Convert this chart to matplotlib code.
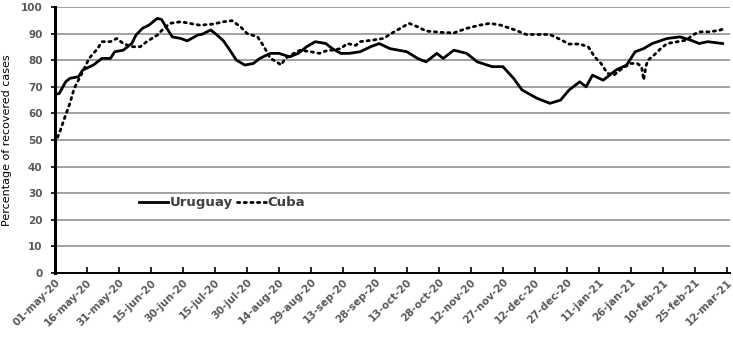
"""Recovered-case percentage, Uruguay vs Cuba."""

import matplotlib

matplotlib.use("Agg")
import matplotlib.pyplot as plt

# days counted from 01-may-20
uruguay_days = [0, 2, 5, 7, 11, 13, 18, 22, 26, 28, 32, 36, 38, 41, 44, 48, 50, 52,
                55, 59, 62, 67, 69, 73, 76, 79, 82, 85, 89, 93, 96, 101, 105, 110,
                114, 118, 122, 127, 130, 134, 138, 143, 148, 152, 157, 165, 170, 174,
                179, 182, 187, 193, 198, 205, 210, 215, 219, 226, 232, 237, 241, 246,
                249, 252, 257, 263, 268, 272, 276, 280, 287, 293, 298, 302, 306, 313]
uruguay_pct = [67.2, 67.5, 71.9, 73.2, 73.8, 76.3, 78.2, 80.7, 80.7, 83.2, 83.8, 86.3,
               89.5, 92.0, 93.2, 95.8, 95.3, 92.6, 88.8, 88.2, 87.3, 89.5, 89.8, 91.4,
               89.5, 87.3, 83.8, 80.1, 78.2, 78.8, 80.7, 82.6, 82.6, 81.3, 82.6, 85.1,
               87.0, 86.3, 84.4, 82.6, 82.6, 83.2, 85.1, 86.3, 84.4, 83.2, 80.7, 79.4,
               82.6, 80.7, 83.8, 82.6, 79.4, 77.6, 77.6, 73.2, 68.8, 65.7, 63.8, 65.0,
               68.8, 71.9, 70.0, 74.4, 72.5, 76.3, 78.2, 83.2, 84.4, 86.3, 88.2, 88.8,
               87.6, 86.3, 87.0, 86.3]

cuba_days = [0, 2, 5, 7, 9, 13, 16, 20, 22, 26, 29, 32, 36, 40, 43, 48, 51, 54, 59,
             63, 68, 74, 79, 83, 87, 90, 95, 98, 101, 104, 106, 108, 112, 115, 120,
             124, 128, 130, 134, 137, 141, 143, 149, 154, 159, 166, 170, 174, 181,
             187, 193, 199, 204, 209, 215, 221, 227, 232, 237, 241, 246, 250, 253,
             256, 259, 262, 266, 270, 273, 275, 276, 277, 278, 280, 284, 287, 292,
             296, 299, 302, 307, 312, 313]
cuba_pct = [48.7, 52.5, 59.4, 63.8, 69.4, 75.7, 80.7, 84.4, 87.0, 87.0, 88.2, 86.3,
            85.1, 85.1, 87.0, 89.5, 92.0, 93.9, 94.5, 93.9, 93.2, 93.6, 94.5, 94.9,
            92.6, 90.1, 88.8, 85.1, 80.7, 79.4, 78.2, 80.7, 82.6, 83.8, 83.2, 82.6,
            83.8, 83.8, 84.4, 86.3, 85.6, 87.0, 87.6, 88.2, 90.7, 93.9, 92.6, 91.0,
            90.5, 90.3, 92.0, 93.2, 93.9, 93.2, 91.6, 89.7, 89.7, 89.7, 87.8, 86.1,
            86.1, 85.1, 81.3, 78.8, 75.1, 74.4, 77.0, 78.8, 78.8, 77.6, 72.6, 77.6,
            80.1, 81.3, 84.4, 86.3, 87.0, 87.6, 89.5, 90.7, 90.7, 91.4, 91.7]

tick_days = list(range(0, 316, 15))
tick_labels = ["01-may-20", "16-may-20", "31-may-20", "15-jun-20", "30-jun-20",
               "15-jul-20", "30-jul-20", "14-aug-20", "29-aug-20", "13-sep-20",
               "28-sep-20", "13-oct-20", "28-oct-20", "12-nov-20", "27-nov-20",
               "12-dec-20", "27-dec-20", "11-jan-21", "26-jan-21", "10-feb-21",
               "25-feb-21", "12-mar-21"]

plt.rcParams["font.family"] = ["DejaVu Sans"]
fig = plt.figure(figsize=(7.33, 3.39), dpi=100)
ax = fig.add_axes([0.075, 0.195, 0.921, 0.784])

ax.plot(uruguay_days, uruguay_pct, color="black", lw=2.0, label="Uruguay",
        solid_joinstyle="round")
ax.plot(cuba_days, cuba_pct, color="black", lw=2.0, linestyle=(0, (0.8, 1.6)),
        dash_capstyle="round", label="Cuba")

ax.set_xlim(0, 316.5)
ax.set_ylim(0, 100)
ax.set_yticks(range(0, 101, 10))
ax.set_xticks(tick_days)
ax.set_xticklabels(tick_labels, rotation=45, ha="right", rotation_mode="anchor")

ax.grid(axis="y", color="#9a9a9a", lw=1.3)
ax.set_axisbelow(True)
for side in ("top", "right"):
    ax.spines[side].set_visible(False)
ax.spines["left"].set_linewidth(2.2)
ax.spines["bottom"].set_linewidth(1.4)

ax.tick_params(axis="x", direction="in", length=4, width=1.2, pad=3)
ax.tick_params(axis="y", direction="out", length=3, width=1.2, pad=6)
for lab in ax.get_xticklabels() + ax.get_yticklabels():
    lab.set_fontsize(7.5)
    lab.set_fontweight("bold")
    lab.set_color("#595959")

ax.set_ylabel("Percentage of recovered cases", fontsize=8, labelpad=6)

leg = ax.legend(loc="center left", bbox_to_anchor=(0.115, 0.263), ncol=2,
                frameon=False, handlelength=2.2, handletextpad=0.1,
                columnspacing=0.3, borderpad=0,
                prop={"size": 9.5, "weight": "bold"})
for t in leg.get_texts():
    t.set_color("#404040")

fig.savefig("out.png", dpi=100)
